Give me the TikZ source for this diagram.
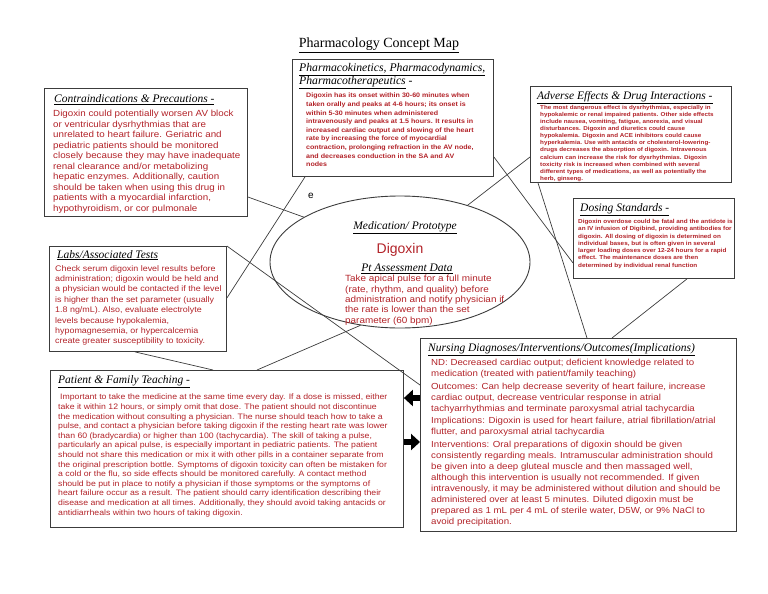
\documentclass[tikz,border=0pt]{standalone}
\usepackage{fontspec}
\setmainfont{Liberation Serif}
\setsansfont{Liberation Sans}
\newfontfamily\wideSans[FakeStretch=1.1]{Liberation Sans}
\usetikzlibrary{calc, positioning, arrows.meta, shapes.geometric}
\definecolor{noteRed}{RGB}{178, 34, 40}
\definecolor{frameGray}{RGB}{60, 60, 60}
\newcommand{\hd}[1]{\underline{\textit{#1}}}

\begin{document}
\begin{tikzpicture}[x=1pt, y=-1pt,
  box/.style={draw=frameGray, line width=0.9pt, anchor=north west, inner sep=0pt},
  head/.style={anchor=north west, inner sep=0pt, align=left, font=\fontsize{11.5}{13}\selectfont},
  body/.style={anchor=north west, inner sep=0pt, align=left, text=noteRed},
  link/.style={draw=frameGray, line width=0.7pt},
  >=Stealth
]
  \useasboundingbox (0,0) rectangle (768,594);

  \node[inner sep=0pt, font=\fontsize{14}{16}\selectfont] (title) at (379,45) {\underline{Pharmacology Concept Map}};

  % Boxes
  \node[box, minimum width=201pt, minimum height=117pt] (pk) at (292,59) {};
  \node[box, minimum width=203pt, minimum height=128pt] (contra) at (44,88) {};
  \node[box, minimum width=201pt, minimum height=96pt] (adverse) at (530,86) {};
  \node[box, minimum width=161pt, minimum height=80pt] (dosing) at (573,198) {};
  \node[box, minimum width=177pt, minimum height=105pt] (labs) at (49,246) {};
  \node[box, minimum width=353pt, minimum height=157pt] (teach) at (50,370) {};
  \node[box, minimum width=316pt, minimum height=193pt] (nurse) at (420,338) {};
  \node[draw=frameGray, line width=0.9pt, ellipse, minimum width=260pt, minimum height=132pt] (med) at (400,262) {};

  % Headings
  \node[head, font=\fontsize{11.7}{12.8}\selectfont] (pkHead) at (299,63) {\hd{Pharmacokinetics, Pharmacodynamics,}\\\hd{Pharmacotherapeutics} -};
  \node[head] (contraHead) at (54,94) {\hd{Contraindications \& Precautions -}};
  \node[head] (adverseHead) at (537,91) {\hd{Adverse Effects \& Drug Interactions -}};
  \node[head] (dosingHead) at (580,203) {\hd{Dosing Standards -}};
  \node[head] (labsHead) at (57,250) {\hd{Labs/Associated Tests}};
  \node[head] (teachHead) at (58,375) {\hd{Patient \& Family Teaching -}};
  \node[head] (nurseHead) at (428,343) {\hd{Nursing Diagnoses/Interventions/Outcomes(Implications)}};
  \node[head, anchor=center] (medHead) at (405,228) {\hd{Medication/ Prototype}};
  \node[head, anchor=center] (ptHead) at (407,269) {\hd{Pt Assessment Data}};
  \node[inner sep=0pt, text=noteRed, font=\sffamily\fontsize{14}{16}\selectfont] (drug) at (400,250) {Digoxin};

  % Notes
  \node[body, font=\wideSans\bfseries\fontsize{6.45}{8.6}\selectfont] (pkText) at (306,93) {Digoxin has its onset within 30-60 minutes when\\
taken orally and peaks at 4-6 hours; its onset is\\
within 5-30 minutes when administered\\
intravenously and peaks at 1.5 hours. It results in\\
increased cardiac output and slowing of the heart\\
rate by increasing the force of myocardial\\
contraction, prolonging refraction in the AV node,\\
and decreases conduction in the SA and AV\\
nodes};
  \node[body, font=\wideSans\fontsize{8.9}{10.5}\selectfont] (contraText) at (53,110) {Digoxin could potentially worsen AV block\\
or ventricular dysrhythmias that are\\
unrelated to heart failure. Geriatric and\\
pediatric patients should be monitored\\
closely because they may have inadequate\\
renal clearance and/or metabolizing\\
hepatic enzymes. Additionally, caution\\
should be taken when using this drug in\\
patients with a myocardial infarction,\\
hypothyroidism, or cor pulmonale};
  \node[body, font=\wideSans\bfseries\fontsize{5.7}{7.1}\selectfont] (adverseText) at (540,105) {The most dangerous effect is dysrhythmias, especially in\\
hypokalemic or renal impaired patients. Other side effects\\
include nausea, vomiting, fatigue, anorexia, and visual\\
disturbances. Digoxin and diuretics could cause\\
hypokalemia. Digoxin and ACE inhibitors could cause\\
hyperkalemia. Use with antacids or cholesterol-lowering-\\
drugs decreases the absorption of digoxin. Intravenous\\
calcium can increase the risk for dysrhythmias. Digoxin\\
toxicity risk is increased when combined with several\\
different types of medications, as well as potentially the\\
herb, ginseng.};
  \node[body, font=\wideSans\bfseries\fontsize{5.8}{7.3}\selectfont] (dosingText) at (578,219) {Digoxin overdose could be fatal and the antidote is\\
an IV infusion of Digibind, providing antibodies for\\
digoxin. All dosing of digoxin is determined on\\
individual bases, but is often given in several\\
larger loading doses over 12-24 hours for a rapid\\
effect. The maintenance doses are then\\
determined by individual renal function};
  \node[body, font=\wideSans\fontsize{8.1}{10.4}\selectfont] (labsText) at (55,265) {Check serum digoxin level results before\\
administration; digoxin would be held and\\
a physician would be contacted if the level\\
is higher than the set parameter (usually\\
1.8 ng/mL). Also, evaluate electrolyte\\
levels because hypokalemia,\\
hypomagnesemia, or hypercalcemia\\
create greater susceptibility to toxicity.};
  \node[body, font=\wideSans\fontsize{9}{10.4}\selectfont] (ptText) at (345,275) {Take apical pulse for a full minute\\
(rate, rhythm, and quality) before\\
administration and notify physician if\\
the rate is lower than the set\\
parameter (60 bpm)};
  \node[body, font=\wideSans\fontsize{7.9}{9.6}\selectfont] (teachText) at (58,394) {\hspace*{2pt}Important to take the medicine at the same time every day. If a dose is missed, either\\
take it within 12 hours, or simply omit that dose. The patient should not discontinue\\
the medication without consulting a physician. The nurse should teach how to take a\\
pulse, and contact a physician before taking digoxin if the resting heart rate was lower\\
than 60 (bradycardia) or higher than 100 (tachycardia). The skill of taking a pulse,\\
particularly an apical pulse, is especially important in pediatric patients. The patient\\
should not share this medication or mix it with other pills in a container separate from\\
the original prescription bottle. Symptoms of digoxin toxicity can often be mistaken for\\
a cold or the flu, so side effects should be monitored carefully. A contact method\\
should be put in place to notify a physician if those symptoms or the symptoms of\\
heart failure occur as a result. The patient should carry identification describing their\\
disease and medication at all times. Additionally, they should avoid taking antacids or\\
antidiarrheals within two hours of taking digoxin.};
  \node[body, font=\wideSans\fontsize{8.8}{11}\selectfont] (nurseText) at (431,359) {ND: Decreased cardiac output; deficient knowledge related to\\
medication (treated with patient/family teaching)\\[1.5pt]
Outcomes: Can help decrease severity of heart failure, increase\\
cardiac output, decrease ventricular response in atrial\\
tachyarrhythmias and terminate paroxysmal atrial tachycardia\\[1.5pt]
Implications: Digoxin is used for heart failure, atrial fibrillation/atrial\\
flutter, and paroxysmal atrial tachycardia\\[1.5pt]
Interventions: Oral preparations of digoxin should be given\\
consistently regarding meals. Intramuscular administration should\\
be given into a deep gluteal muscle and then massaged well,\\
although this intervention is usually not recommended. If given\\
intravenously, it may be administered without dilution and should be\\
administered over at least 5 minutes. Diluted digoxin must be\\
prepared as 1 mL per 4 mL of sterile water, D5W, or 9\% NaCl to\\
avoid precipitation.};
  \node[inner sep=0pt, font=\sffamily\fontsize{10}{12}\selectfont] (stray) at (311,196) {e};

  % Connectors
  \draw[link] ($(contra.north east)+(0,109)$) -- (med.155);
  \draw[link] ($(pk.south west)+(13,0)$) -- ($(labs.north east)+(0,52)$);
  \draw[link] ($(adverse.north west)+(0,71)$) -- (med.40);
  \draw[link] ($(adverse.south west)+(8,0)$) -- ($(nurse.north west)+(167,0)$);
  \draw[link] ($(pk.north east)+(0,98)$) -- ($(dosing.north west)+(0,65)$);
  \draw[link] ($(dosing.south west)+(114,0)$) -- ($(nurse.north west)+(192,0)$);
  \draw[link] (labs.north east) -- ($(nurse.north west)+(0,47)$);
  \draw[link] ($(labs.south west)+(86,0)$) -- ($(teach.north west)+(163,0)$);
  \draw[link] ($(teach.north west)+(207,0)$) -- (med.238);

  % Block arrows
  \draw[line width=6pt, -{Triangle[length=9pt, width=16pt]}] ($(nurse.north west)+(0,60)$) -- ($(teach.north east)+(0,28)$);
  \draw[line width=6pt, -{Triangle[length=9pt, width=16pt]}] ($(teach.north east)+(0,72)$) -- ($(nurse.north west)+(0,104)$);
\end{tikzpicture}
\end{document}
